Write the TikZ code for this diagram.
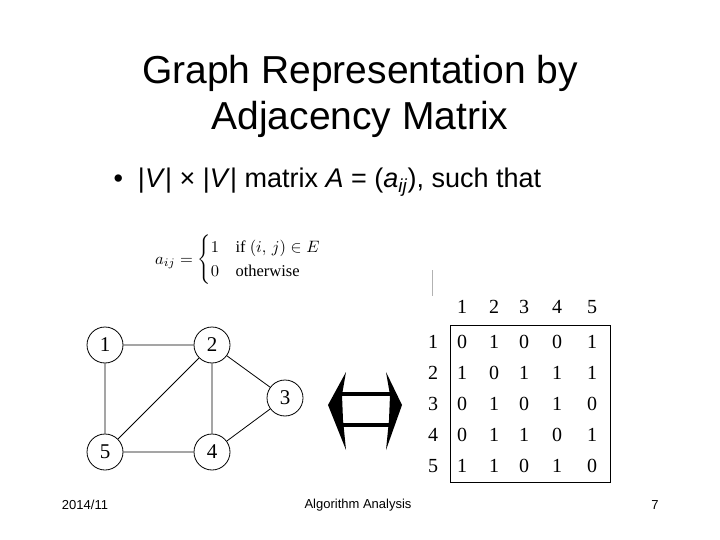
\documentclass[tikz,border=0pt]{standalone}
\usepackage{amsmath}
\usepackage{graphicx}
\usepackage{fontspec}
\setmainfont{Liberation Serif}
\setsansfont{Liberation Sans}
\begin{document}
\begin{tikzpicture}[x=1pt,y=-1pt,
  vtx/.style={circle,draw,line width=0.8pt,minimum size=36pt,inner sep=0pt,font=\fontsize{21}{21}\selectfont},
  edge/.style={line width=0.8pt},
  num/.style={font=\fontsize{20}{20}\selectfont},
  sf/.style={font=\sffamily}]
\useasboundingbox (0,0) rectangle (720,540);
\node[sf,align=center,font=\sffamily\fontsize{39}{46}\selectfont] (title) at (360,96) {Graph Representation by\\Adjacency Matrix};
\node[sf,anchor=west,font=\sffamily\fontsize{27}{30}\selectfont] (bullet) at (110,182) {\textbullet\ \ |\textit{V}| × |\textit{V}| matrix \textit{A} = (\textit{a}\textsubscript{\textit{ij}}), such that};
\node[anchor=west,inner sep=0pt] (formula) at (155,260) {\scalebox{1.65}{$a_{ij} = \begin{cases} 1 & \text{if } (i,\,j) \in E\\ 0 & \text{otherwise}\end{cases}$}};
\draw[gray!60,line width=0.6pt] (432,270) -- (432,296);
% graph
\node[vtx] (v1) at (105,345) {1};
\node[vtx] (v2) at (212,345) {2};
\node[vtx] (v3) at (285,398) {3};
\node[vtx] (v5) at (105,452) {5};
\node[vtx] (v4) at (212,452) {4};
\draw[edge] (v1)--(v2) (v1)--(v5) (v2)--(v5) (v2)--(v4) (v2)--(v3) (v3)--(v4) (v5)--(v4);
% double arrow
\fill (346,372) -- (328,405) -- (346,450) -- (343,420) -- (342,395) -- cycle;
\fill (386,372) -- (402,405) -- (386,450) -- (389,420) -- (390,395) -- cycle;
\draw[line width=4.5pt] (342,394) -- (390,394) (342,425) -- (390,425);
% matrix
\node[draw,line width=0.8pt,minimum width=160pt,minimum height=157pt] (box) at (530,404) {};
\foreach \c [count=\i] in {462,494,524,557,592} {
  \node[num] (c\i) at (\c,307) {\i};
}
\foreach \r [count=\i] in {342,373,404,435,466} {
  \node[num] (r\i) at (433,\r) {\i};
}
\foreach \row [count=\j] in {{0,1,0,0,1},{1,0,1,1,1},{0,1,0,1,0},{0,1,1,0,1},{1,1,0,1,0}} {
  \foreach \v [count=\i] in \row {
    \node[num] (m\j\i) at (c\i.center |- r\j.center) {\v};
  }
}
\node[sf,font=\sffamily\fontsize{13}{13}\selectfont] (date) at (85,505) {2014/11};
\node[sf,font=\sffamily\fontsize{13}{13}\selectfont] (foot) at (358,505) {Algorithm Analysis};
\node[sf,font=\sffamily\fontsize{13}{13}\selectfont] (page) at (655,505) {7};
\end{tikzpicture}
\end{document}
